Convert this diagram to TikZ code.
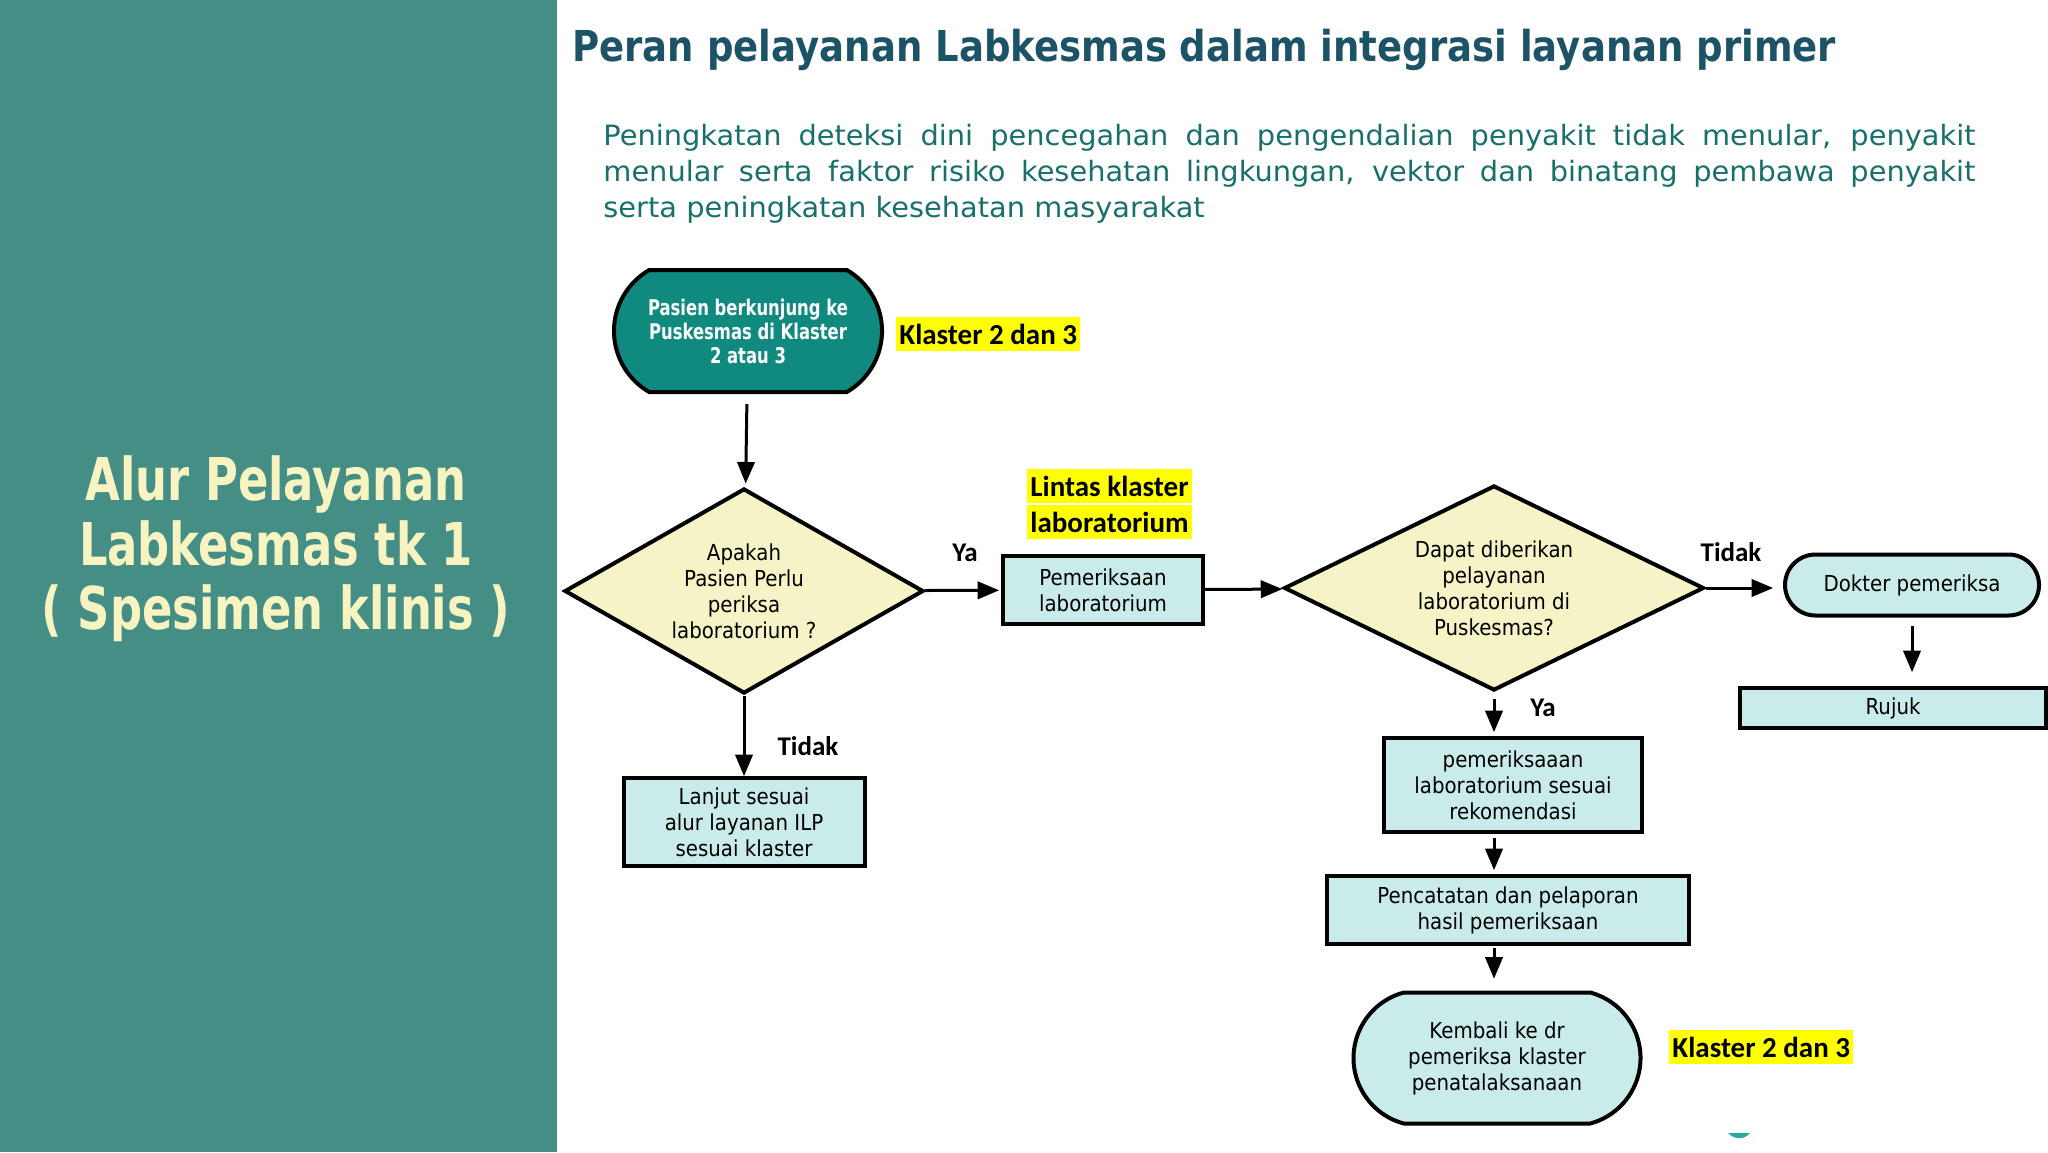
\documentclass[tikz,border=0pt]{standalone}
\usepackage{fontspec}
\setmainfont{DejaVu Sans}
\newfontfamily\sidefont[FakeStretch=0.76]{DejaVu Sans}
\newfontfamily\headfont[FakeStretch=0.87]{DejaVu Sans}
\newfontfamily\boxfont[FakeStretch=0.9]{DejaVu Sans}
\newfontfamily\introfont[FakeStretch=1.03]{DejaVu Sans}
\newfontfamily\lblfont{Carlito}
\usepackage{tikz}
\usetikzlibrary{arrows, shapes.geometric, shapes.misc, positioning}
\definecolor{panelteal}{HTML}{448E85}
\definecolor{startteal}{HTML}{108A7F}
\definecolor{sidetext}{HTML}{F7F4C2}
\definecolor{headblue}{HTML}{1D5366}
\definecolor{introteal}{HTML}{18706B}
\definecolor{boxcyan}{HTML}{C9ECEA}
\definecolor{askyellow}{HTML}{F6F4C6}
\definecolor{hiyellow}{HTML}{FFFF00}
\definecolor{markteal}{HTML}{2AA8A0}
\newcommand{\spreadline}[1]{\makebox[686pt][s]{\spaceskip=0.3em plus 1fil\relax #1}}

\begin{document}
\begin{tikzpicture}[>=triangle 45, x=0.5pt, y=-0.5pt,
  box/.style={draw, line width=2pt, fill=boxcyan, align=center, inner sep=0pt,
    font=\boxfont\fontsize{11}{13}\selectfont},
  ask/.style={diamond, draw, line width=2pt, fill=askyellow, align=center, inner sep=0pt,
    font=\boxfont\fontsize{11}{13}\selectfont},
  term/.style={rounded rectangle, draw, line width=2pt, align=center, inner sep=0pt},
  hl/.style={fill=hiyellow, inner sep=1.5pt, minimum height=17pt,
    font=\lblfont\bfseries\fontsize{14.5}{16}\selectfont},
  lbl/.style={inner sep=0pt, font=\lblfont\bfseries\fontsize{13.5}{15}\selectfont},
  flow/.style={->, line width=1.5pt}]
\useasboundingbox (0,0) rectangle (2048,1152);
\fill[white] (0,0) rectangle (2048,1152);

% left panel
\fill[panelteal] (0,0) rectangle (557,1152);
\node[text=sidetext, align=center, font=\sidefont\bfseries\fontsize{29.5}{32.3}\selectfont]
  (sidetitle) at (276,549) {Alur Pelayanan\\Labkesmas tk 1\\( Spesimen klinis )};

% heading and intro
\node[anchor=base west, inner sep=0pt, text=headblue, font=\headfont\bfseries\fontsize{21.3}{24}\selectfont]
  (heading) at (572,61) {Peran pelayanan Labkesmas dalam integrasi layanan primer};
\node[anchor=north west, inner sep=0pt, text=introteal, text width=686pt, align=left,
  font=\introfont\fontsize{14}{18}\selectfont] (intro) at (603,124)
  {\spreadline{Peningkatan deteksi dini pencegahan dan pengendalian penyakit tidak menular, penyakit}\\
   \spreadline{menular serta faktor risiko kesehatan lingkungan, vektor dan binatang pembawa penyakit}\\
   serta peningkatan kesehatan masyarakat};

% flow nodes
\node[term, fill=startteal, text=white, minimum width=134pt, minimum height=61pt,
  rounded rectangle arc length=120, font=\sidefont\bfseries\fontsize{10.8}{12}\selectfont]
  (start) at (748,331) {Pasien berkunjung ke\\Puskesmas di Klaster\\2 atau 3};
\node[hl, anchor=west] (klaster1) at (896,334) {Klaster 2 dan 3};

\node[ask, aspect=1.75, minimum width=179.5pt, minimum height=102.5pt] (perlu) at (744,591)
  {Apakah\\Pasien Perlu\\periksa\\laboratorium ?};
\node[box, minimum width=120.5pt, minimum height=44pt] (lanjut) at (744,822)
  {Lanjut sesuai\\alur layanan ILP\\sesuai klaster};

\node[box, minimum width=100pt, minimum height=34pt] (lab) at (1103,590)
  {Pemeriksaan\\laboratorium};
\node[hl, anchor=west] (lintas) at (1027,486) {Lintas klaster};
\node[hl, anchor=west] (lintaslab) at (1027,522) {laboratorium};

\node[ask, aspect=2.05, minimum width=210pt, minimum height=102.5pt] (dapat) at (1494,588)
  {Dapat diberikan\\pelayanan\\laboratorium di\\Puskesmas?};

\node[term, fill=boxcyan, minimum width=127pt, minimum height=30.5pt,
  font=\boxfont\fontsize{11}{13}\selectfont] (dokter) at (1912,585) {Dokter pemeriksa};
\node[box, minimum width=153pt, minimum height=20pt] (rujuk) at (1893,708) {Rujuk};

\node[box, minimum width=129pt, minimum height=47pt] (rekom) at (1513,785)
  {pemeriksaaan\\laboratorium sesuai\\rekomendasi};
\node[box, minimum width=181pt, minimum height=34pt] (catat) at (1508,910)
  {Pencatatan dan pelaporan\\hasil pemeriksaan};
\node[term, fill=boxcyan, minimum width=143.5pt, minimum height=65.5pt,
  rounded rectangle arc length=150, font=\boxfont\fontsize{11}{13}\selectfont]
  (kembali) at (1497,1058) {Kembali ke dr\\pemeriksa klaster\\penatalaksanaan};
\node[hl, anchor=west] (klaster2) at (1669,1047) {Klaster 2 dan 3};

% answers
\node[lbl] (ya1) at (965,553) {Ya};
\node[lbl] (tidak1) at (808,746) {Tidak};
\node[lbl] (tidak2) at (1731,552) {Tidak};
\node[lbl] (ya2) at (1543,708) {Ya};

% connectors
\draw[flow, shorten <=5pt, shorten >=2pt] (start) -- (perlu);
\draw[flow, shorten >=1pt] (perlu) -- (lab);
\draw[flow] (perlu) -- (lanjut);
\draw[flow, shorten >=1pt] (lab) -- (dapat);
\draw[flow, shorten >=5pt] (dapat.east) -- (dapat.east -| dokter.west);
\draw[flow, shorten <=4pt, shorten >=7pt] (dokter.south) -- (dokter.south |- rujuk.north);
\draw[flow, shorten <=3pt, shorten >=2pt] (dapat.south) -- (dapat.south |- rekom.north);
\draw[flow, shorten <=2pt, shorten >=2pt] (rekom.south -| dapat.south) -- (catat.north -| dapat.south);
\draw[flow, shorten <=1pt, shorten >=6pt] (catat.south -| dapat.south) -- (kembali.north -| dapat.south);

% small mark at the foot
\fill[markteal] (1728,1133) .. controls (1735,1140) and (1744,1140) .. (1750,1133) -- cycle;
\end{tikzpicture}
\end{document}
